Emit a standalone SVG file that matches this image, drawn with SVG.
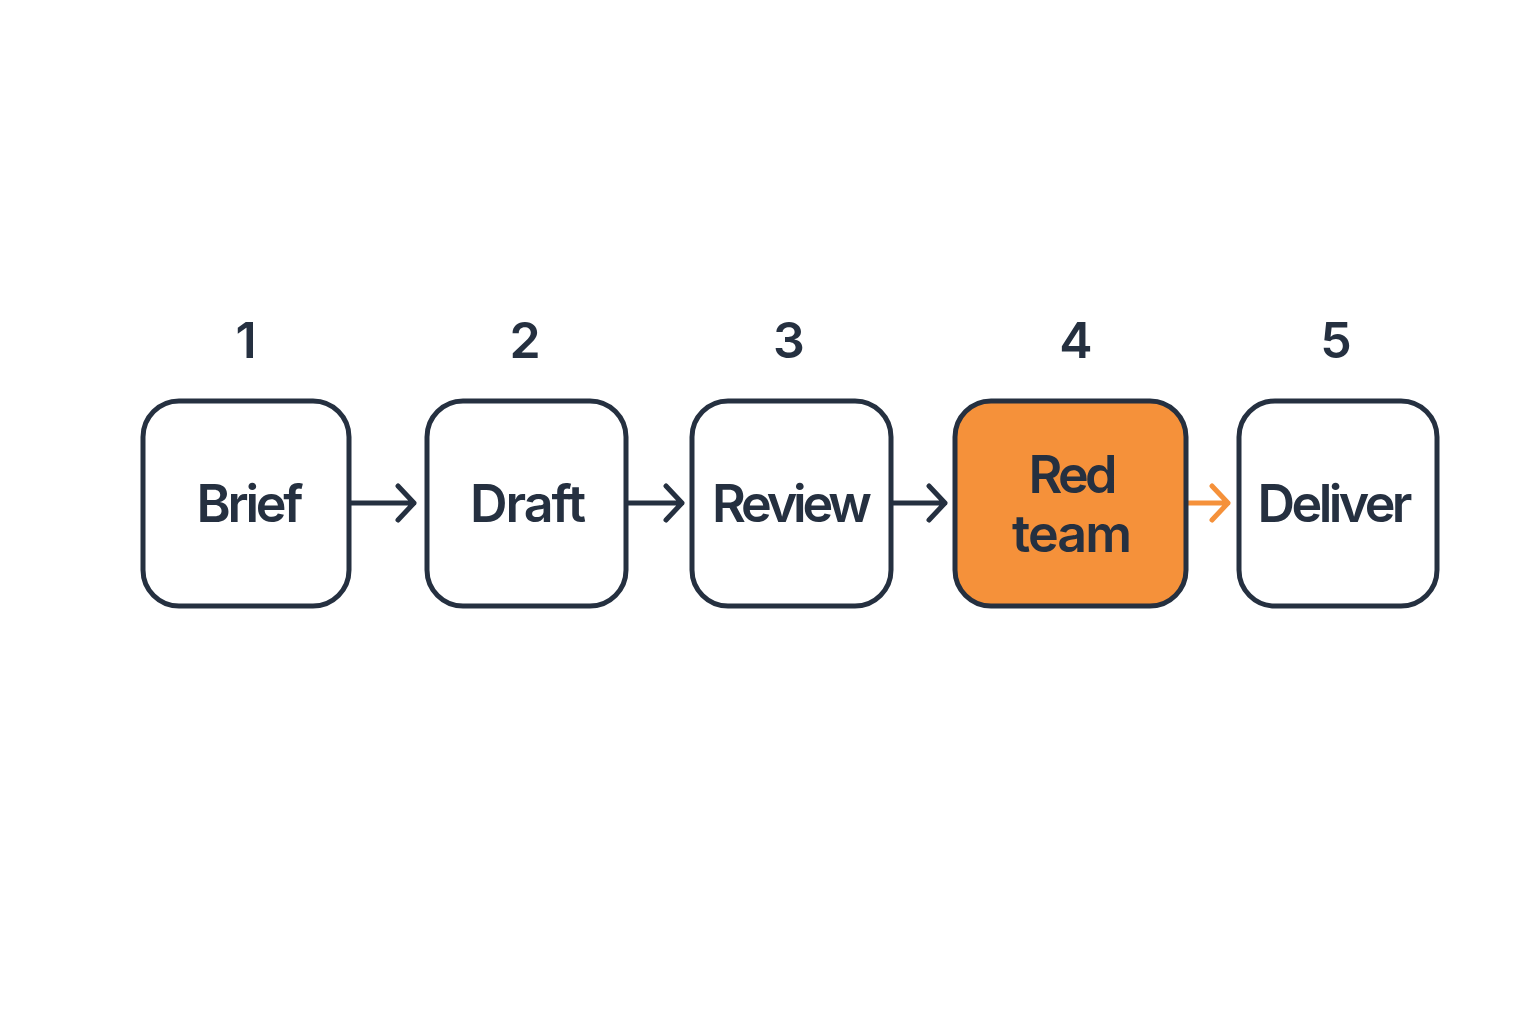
<svg xmlns="http://www.w3.org/2000/svg" width="1536" height="1024" viewBox="0 0 1536 1024">
<defs>
<style>
.box{fill:#ffffff;stroke:#253040;stroke-width:5}
.hl{fill:#F5913A;stroke:#253040;stroke-width:5}
.lbl{font-family:Inter,"Noto Sans",sans-serif;font-weight:600;font-size:52px;fill:#253040;text-anchor:middle}
.num{font-family:Inter,"Noto Sans",sans-serif;font-weight:600;font-size:50px;fill:#253040;text-anchor:middle}
.ln{fill:none;stroke:#253040;stroke-width:5;stroke-linecap:round;stroke-linejoin:round}
.lno{fill:none;stroke:#F5913A;stroke-width:5;stroke-linecap:round;stroke-linejoin:round}
</style>
</defs>
<rect width="1536" height="1024" fill="#ffffff"/>
<g id="connectors">
<path class="ln" d="M351 503 H414 M398 486 L414 503 L398 520"/>
<path class="ln" d="M628 503 H682 M666 486 L682 503 L666 520"/>
<path class="ln" d="M893 503 H945 M929 486 L945 503 L929 520"/>
<path class="lno" d="M1188 503 H1228 M1212 486 L1228 503 L1212 520"/>
</g>
<g id="node1">
<text class="num" x="246" y="358">1</text>
<rect class="box" x="143" y="401" width="206" height="205" rx="36"/>
<text class="lbl" x="250" y="522" textLength="107">Brief</text>
</g>
<g id="node2">
<text class="num" x="525" y="358">2</text>
<rect class="box" x="427" y="401" width="199" height="205" rx="36"/>
<text class="lbl" x="528" y="522" textLength="116">Draft</text>
</g>
<g id="node3">
<text class="num" x="789" y="358">3</text>
<rect class="box" x="692" y="401" width="199" height="205" rx="36"/>
<text class="lbl" x="792" y="522" textLength="160">Review</text>
</g>
<g id="node4">
<text class="num" x="1076" y="358">4</text>
<rect class="hl" x="955" y="401" width="231" height="205" rx="36"/>
<text class="lbl" x="1073" y="493" textLength="89">Red</text>
<text class="lbl" x="1072" y="552" textLength="120">team</text>
</g>
<g id="node5">
<text class="num" x="1336" y="358">5</text>
<rect class="box" x="1239" y="401" width="198" height="205" rx="36"/>
<text class="lbl" x="1335" y="522" textLength="155">Deliver</text>
</g>
</svg>
